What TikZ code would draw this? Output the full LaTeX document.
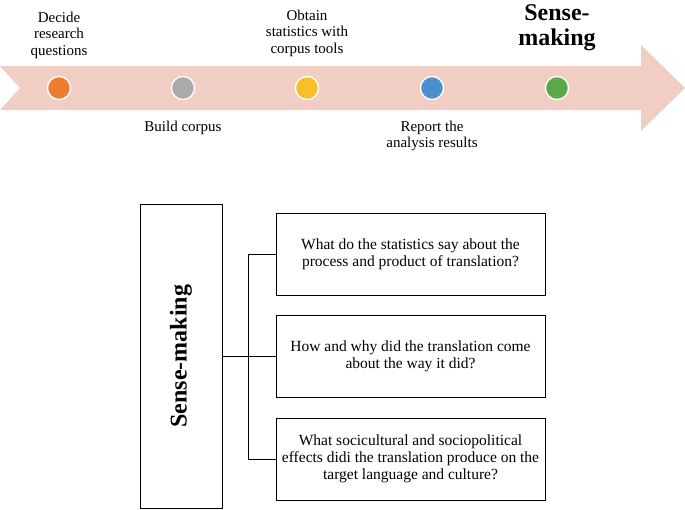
\documentclass[tikz,border=0pt]{standalone}
\usepackage{fontspec}
\setmainfont{Liberation Serif}
\usetikzlibrary{positioning}
\definecolor{arrowfill}{RGB}{240,206,196}
\definecolor{dotorange}{RGB}{237,125,49}
\definecolor{dotgray}{RGB}{170,170,170}
\definecolor{dotyellow}{RGB}{250,190,40}
\definecolor{dotblue}{RGB}{75,145,208}
\definecolor{dotgreen}{RGB}{92,168,74}

\begin{document}
\begin{tikzpicture}[x=1pt,y=-1pt,
  every node/.style={font=\fontsize{15}{16.5}\selectfont, align=center},
  dot/.style={circle,draw=white,line width=1.3pt,minimum size=23pt,inner sep=0pt},
  qbox/.style={draw,line width=1pt,minimum width=269pt,minimum height=82pt,inner sep=0pt,
    font=\fontsize{15.5}{17}\selectfont},
  bigbold/.style={font=\fontsize{24}{25}\selectfont\bfseries}]
  \useasboundingbox (0,0) rectangle (685,509);
  % timeline arrow
  \fill[arrowfill] (0,66) -- (641,66) -- (641,45) -- (685,88) -- (641,131)
    -- (641,110) -- (0,110) -- (20,88) -- cycle;
  \node[dot,fill=dotorange] (d1) at (59,88) {};
  \node[dot,fill=dotgray]   (d2) at (183,88) {};
  \node[dot,fill=dotyellow] (d3) at (307,88) {};
  \node[dot,fill=dotblue]   (d4) at (432,88) {};
  \node[dot,fill=dotgreen]  (d5) at (557,88) {};
  \node (l1) at (59,35)  {Decide\\research\\questions};
  \node (l2) at (183,128) {Build corpus};
  \node (l3) at (307,33) {Obtain\\statistics with\\corpus tools};
  \node (l4) at (432,136) {Report the\\analysis results};
  \node[bigbold] (l5) at (557,28) {Sense-\\making};
  % sense-making questions
  \node[draw,line width=1pt,minimum width=82pt,minimum height=304pt,inner sep=0pt] (sm) at (181,356) {};
  \node[bigbold,rotate=90] (smt) at (sm.center) {Sense-making};
  \node[qbox] (q1) at (410.5,254) {What do the statistics say about the\\process and product of translation?};
  \node[qbox] (q2) at (410.5,356) {How and why did the translation come\\about the way it did?};
  \node[qbox] (q3) at (410.5,459) {What socicultural and sociopolitical\\effects didi the translation produce on the\\target language and culture?};
  \draw[line width=1pt] (sm.east) -- (q2.west);
  \draw[line width=1pt] (q1.west) -- ++(-27,0) |- (q3.west);
\end{tikzpicture}
\end{document}
